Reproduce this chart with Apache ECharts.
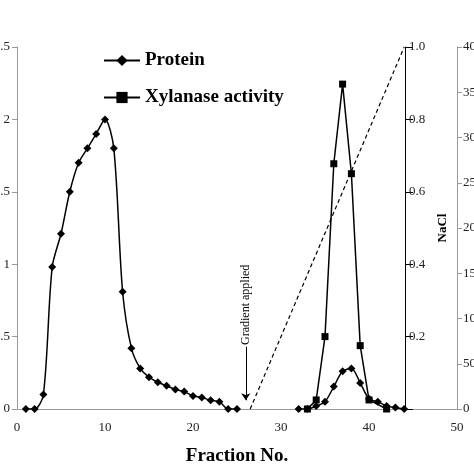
<!DOCTYPE html>
<html><head><meta charset="utf-8">
<script src="https://cdn.jsdelivr.net/npm/echarts@6/dist/echarts.min.js"></script>
<style>html,body{margin:0;padding:0;background:#fff}#c{width:474px;height:474px}</style>
</head><body><div id="c"></div>
<script>
var proteinX = [1,2,3,4,5,6,7,8,9,10,11,12,13,14,15,16,17,18,19,20,21,22,23,24,25, 26, 32,33,34,35,36,37,38,39,40,41,42,43,44];
var proteinY = [0,0,0.1,0.98,1.21,1.5,1.7,1.8,1.9,2.0,1.8,0.81,0.42,0.28,0.22,0.185,0.16,0.135,0.12,0.09,0.08,0.06,0.05,0,0, '-', 0,0,0.02,0.05,0.155,0.26,0.28,0.18,0.07,0.05,0.02,0.01,0];
var xylX = [33,34,35,36,37,38,39,40,42];
var xylY = [0,10,80,271,359,260,70,10,0];
var naclX = [26.5,44];
var naclY = [0,1.0];
var font = 'Liberation Serif';

var chart = echarts.init(document.getElementById('c'));
function pairs(xs, ys){ return xs.map(function(x,i){ return [x, ys[i]]; }); }
var option = {
  animation: false,
  textStyle: {fontFamily: font},
  grid: {left: 17, right: 17, top: 47, bottom: 65, containLabel: false, outerBoundsMode: 'none'},
  legend: {
    orient: 'vertical', left: 98, top: 46, itemGap: 18, itemWidth: 36,
    textStyle: {fontFamily: font, fontSize: 19, fontWeight: 'bold', color: '#000'},
    data: ['Protein', 'Xylanase activity']
  },
  xAxis: {
    type: 'value', min: 0, max: 50, interval: 10,
    name: 'Fraction No.', nameLocation: 'middle', nameGap: 38,
    nameTextStyle: {fontFamily: font, fontSize: 19, fontWeight: 'bold', color: '#000'},
    axisLine: {lineStyle: {color: '#999'}},
    axisTick: {show: false},
    axisLabel: {color: '#222', fontSize: 13, margin: 12, fontFamily: font},
    splitLine: {show: false}
  },
  yAxis: [
    {type: 'value', min: 0, max: 2.5, interval: 0.5, position: 'left',
     axisLine: {show: true, lineStyle: {color: '#999'}},
     axisTick: {show: true, inside: false, length: 5, lineStyle: {color: '#999'}},
     axisLabel: {color: '#222', fontSize: 13, fontFamily: font, margin: 7},
     splitLine: {show: false}},
    {type: 'value', min: 0, max: 1.0, interval: 0.2, position: 'right', offset: -52,
     name: 'NaCl', nameLocation: 'middle', nameGap: 28, nameRotate: 90,
     nameTextStyle: {fontFamily: font, fontSize: 13, fontWeight: 'bold', color: '#000'},
     axisLine: {show: true, lineStyle: {color: '#000'}},
     axisTick: {show: true, length: 8, lineStyle: {color: '#000'}},
     axisLabel: {color: '#222', fontSize: 13, fontFamily: font, margin: 4,
       formatter: function(v){ return v === 0 ? '' : v.toFixed(1); }},
     splitLine: {show: false}},
    {type: 'value', min: 0, max: 400, interval: 50, position: 'right',
     axisLine: {show: true, lineStyle: {color: '#999'}},
     axisTick: {show: true, length: 5, lineStyle: {color: '#999'}},
     axisLabel: {color: '#222', fontSize: 13, fontFamily: font, margin: 6},
     splitLine: {show: false}}
  ],
  series: [
    {name: 'Protein', type: 'line', yAxisIndex: 0, data: pairs(proteinX, proteinY),
     smooth: 0.3, symbol: 'diamond', symbolSize: 8, connectNulls: false,
     itemStyle: {color: '#000'}, lineStyle: {color: '#000', width: 1.5},
     markLine: {
       silent: true, symbol: ['none', 'arrow'], symbolSize: 7,
       lineStyle: {color: '#000', type: 'solid', width: 1},
       label: {show: false},
       data: [[{coord: [26, 0.43]}, {coord: [26, 0.06]}]]
     }},
    {name: 'Xylanase activity', type: 'line', yAxisIndex: 2, data: pairs(xylX, xylY),
     symbol: 'rect', symbolSize: 7,
     itemStyle: {color: '#000'}, lineStyle: {color: '#000', width: 1.5}},
    {name: 'NaCl', type: 'line', yAxisIndex: 1, data: pairs(naclX, naclY),
     symbol: 'none', lineStyle: {color: '#000', width: 1.2, type: [4, 3]}}
  ],
  graphic: [
    {type: 'text', x: 246, y: 345, rotation: Math.PI / 2,
     style: {text: 'Gradient applied', font: '12px "Liberation Serif"', fill: '#000',
       textAlign: 'left', textVerticalAlign: 'middle'}}
  ]
};
chart.setOption(option);
</script>
</body></html>
